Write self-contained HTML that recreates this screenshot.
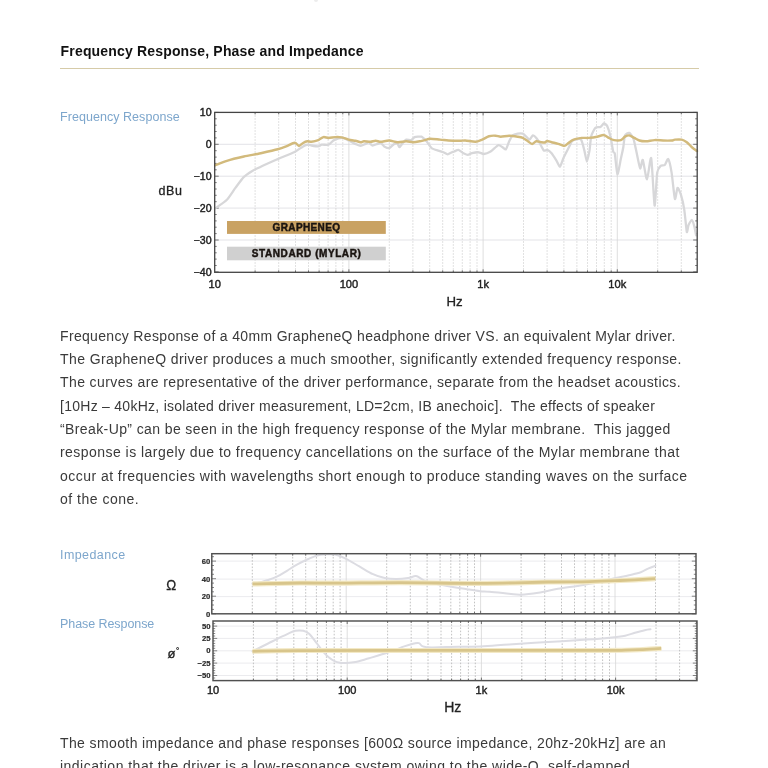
<!DOCTYPE html>
<html lang="en"><head><meta charset="utf-8"><title>Frequency Response, Phase and Impedance</title>
<style>
html,body{margin:0;padding:0;background:#fff;}
body{filter:blur(0.45px);width:768px;height:768px;position:relative;overflow:hidden;font-family:"Liberation Sans",sans-serif;color:#333;}
h2{position:absolute;left:60.6px;top:40.5px;margin:0;font-size:14px;line-height:20px;font-weight:bold;color:#111;letter-spacing:0.17px;white-space:nowrap;}
.rule{position:absolute;left:60px;top:68px;width:639px;height:1px;background:#d6cba8;}
.lbl{position:absolute;left:60px;font-size:12.5px;line-height:16px;color:#7da6cc;white-space:nowrap;}
.ln{position:absolute;left:60px;font-size:14px;line-height:20px;white-space:pre;color:#3a3a3a;}
svg{position:absolute;left:0;top:0;}
svg text{font-family:"Liberation Sans",sans-serif;fill:#222;}
.tk{font-size:11.1px;stroke:#222;stroke-width:0.42px;}
.sm{font-size:7.7px;font-weight:bold;fill:#2a2a2a;stroke:#2a2a2a;stroke-width:0.2px;}
.ax{font-size:12px;fill:#222;stroke:#222;stroke-width:0.3px;}
.lg{font-size:10px;font-weight:bold;fill:#1a1410;stroke:#1a1410;stroke-width:0.45px;}
</style></head><body>
<div style="position:absolute;left:314px;top:0;width:4px;height:2px;background:#ececec;border-radius:0 0 2px 2px"></div>
<h2>Frequency Response, Phase and Impedance</h2>
<div class="rule"></div>
<div class="lbl" style="top:108.6px;letter-spacing:0.05px">Frequency Response</div>
<div class="lbl" style="top:546.6px;letter-spacing:0.42px">Impedance</div>
<div class="lbl" style="top:615.6px;letter-spacing:-0.07px">Phase Response</div>
<div class="ln" style="top:325.68px;letter-spacing:0.333px">Frequency Response of a 40mm GrapheneQ headphone driver VS. an equivalent Mylar driver.</div>
<div class="ln" style="top:348.98px;letter-spacing:0.411px">The GrapheneQ driver produces a much smoother, significantly extended frequency response.</div>
<div class="ln" style="top:372.38px;letter-spacing:0.402px">The curves are representative of the driver performance, separate from the headset acoustics.</div>
<div class="ln" style="top:395.68px;letter-spacing:0.270px">[10Hz – 40kHz, isolated driver measurement, LD=2cm, IB anechoic].  The effects of speaker</div>
<div class="ln" style="top:419.08px;letter-spacing:0.393px">“Break-Up” can be seen in the high frequency response of the Mylar membrane.  This jagged</div>
<div class="ln" style="top:442.38px;letter-spacing:0.460px">response is largely due to frequency cancellations on the surface of the Mylar membrane that</div>
<div class="ln" style="top:465.78px;letter-spacing:0.465px">occur at frequencies with wavelengths short enough to produce standing waves on the surface</div>
<div class="ln" style="top:489.18px;letter-spacing:0.500px">of the cone.</div>
<div class="ln" style="top:732.78px;letter-spacing:0.389px">The smooth impedance and phase responses [600Ω source impedance, 20hz-20kHz] are an</div>
<div class="ln" style="top:756.18px;letter-spacing:0.474px">indication that the driver is a low-resonance system owing to the wide-Q, self-damped</div>
<svg width="768" height="768" viewBox="0 0 768 768">
<rect x="214.7" y="112.4" width="482.5" height="159.9" fill="#fff"/>
<line x1="214.7" y1="144.3" x2="697.2" y2="144.3" stroke="#e0e0e4" stroke-width="0.9"/>
<line x1="214.7" y1="176.2" x2="697.2" y2="176.2" stroke="#e0e0e4" stroke-width="0.9"/>
<line x1="214.7" y1="208.1" x2="697.2" y2="208.1" stroke="#e0e0e4" stroke-width="0.9"/>
<line x1="214.7" y1="240.0" x2="697.2" y2="240.0" stroke="#e0e0e4" stroke-width="0.9"/>
<line x1="255.1" y1="112.4" x2="255.1" y2="272.3" stroke="#b8b8b8" stroke-width="0.7" stroke-dasharray="1.2 1.8"/>
<line x1="255.1" y1="112.4" x2="255.1" y2="114.4" stroke="#555" stroke-width="0.8"/>
<line x1="255.1" y1="272.3" x2="255.1" y2="270.3" stroke="#555" stroke-width="0.8"/>
<line x1="278.7" y1="112.4" x2="278.7" y2="272.3" stroke="#b8b8b8" stroke-width="0.7" stroke-dasharray="1.2 1.8"/>
<line x1="278.7" y1="112.4" x2="278.7" y2="114.4" stroke="#555" stroke-width="0.8"/>
<line x1="278.7" y1="272.3" x2="278.7" y2="270.3" stroke="#555" stroke-width="0.8"/>
<line x1="295.5" y1="112.4" x2="295.5" y2="272.3" stroke="#b8b8b8" stroke-width="0.7" stroke-dasharray="1.2 1.8"/>
<line x1="295.5" y1="112.4" x2="295.5" y2="114.4" stroke="#555" stroke-width="0.8"/>
<line x1="295.5" y1="272.3" x2="295.5" y2="270.3" stroke="#555" stroke-width="0.8"/>
<line x1="308.5" y1="112.4" x2="308.5" y2="272.3" stroke="#b8b8b8" stroke-width="0.7" stroke-dasharray="1.2 1.8"/>
<line x1="308.5" y1="112.4" x2="308.5" y2="114.4" stroke="#555" stroke-width="0.8"/>
<line x1="308.5" y1="272.3" x2="308.5" y2="270.3" stroke="#555" stroke-width="0.8"/>
<line x1="319.1" y1="112.4" x2="319.1" y2="272.3" stroke="#b8b8b8" stroke-width="0.7" stroke-dasharray="1.2 1.8"/>
<line x1="319.1" y1="112.4" x2="319.1" y2="114.4" stroke="#555" stroke-width="0.8"/>
<line x1="319.1" y1="272.3" x2="319.1" y2="270.3" stroke="#555" stroke-width="0.8"/>
<line x1="328.1" y1="112.4" x2="328.1" y2="272.3" stroke="#b8b8b8" stroke-width="0.7" stroke-dasharray="1.2 1.8"/>
<line x1="328.1" y1="112.4" x2="328.1" y2="114.4" stroke="#555" stroke-width="0.8"/>
<line x1="328.1" y1="272.3" x2="328.1" y2="270.3" stroke="#555" stroke-width="0.8"/>
<line x1="335.9" y1="112.4" x2="335.9" y2="272.3" stroke="#b8b8b8" stroke-width="0.7" stroke-dasharray="1.2 1.8"/>
<line x1="335.9" y1="112.4" x2="335.9" y2="114.4" stroke="#555" stroke-width="0.8"/>
<line x1="335.9" y1="272.3" x2="335.9" y2="270.3" stroke="#555" stroke-width="0.8"/>
<line x1="342.8" y1="112.4" x2="342.8" y2="272.3" stroke="#b8b8b8" stroke-width="0.7" stroke-dasharray="1.2 1.8"/>
<line x1="342.8" y1="112.4" x2="342.8" y2="114.4" stroke="#555" stroke-width="0.8"/>
<line x1="342.8" y1="272.3" x2="342.8" y2="270.3" stroke="#555" stroke-width="0.8"/>
<line x1="348.9" y1="112.4" x2="348.9" y2="272.3" stroke="#d6d6d6" stroke-width="0.8"/>
<line x1="348.9" y1="112.4" x2="348.9" y2="115.4" stroke="#555" stroke-width="0.8"/>
<line x1="348.9" y1="272.3" x2="348.9" y2="269.3" stroke="#555" stroke-width="0.8"/>
<line x1="389.3" y1="112.4" x2="389.3" y2="272.3" stroke="#b8b8b8" stroke-width="0.7" stroke-dasharray="1.2 1.8"/>
<line x1="389.3" y1="112.4" x2="389.3" y2="114.4" stroke="#555" stroke-width="0.8"/>
<line x1="389.3" y1="272.3" x2="389.3" y2="270.3" stroke="#555" stroke-width="0.8"/>
<line x1="412.9" y1="112.4" x2="412.9" y2="272.3" stroke="#b8b8b8" stroke-width="0.7" stroke-dasharray="1.2 1.8"/>
<line x1="412.9" y1="112.4" x2="412.9" y2="114.4" stroke="#555" stroke-width="0.8"/>
<line x1="412.9" y1="272.3" x2="412.9" y2="270.3" stroke="#555" stroke-width="0.8"/>
<line x1="429.7" y1="112.4" x2="429.7" y2="272.3" stroke="#b8b8b8" stroke-width="0.7" stroke-dasharray="1.2 1.8"/>
<line x1="429.7" y1="112.4" x2="429.7" y2="114.4" stroke="#555" stroke-width="0.8"/>
<line x1="429.7" y1="272.3" x2="429.7" y2="270.3" stroke="#555" stroke-width="0.8"/>
<line x1="442.7" y1="112.4" x2="442.7" y2="272.3" stroke="#b8b8b8" stroke-width="0.7" stroke-dasharray="1.2 1.8"/>
<line x1="442.7" y1="112.4" x2="442.7" y2="114.4" stroke="#555" stroke-width="0.8"/>
<line x1="442.7" y1="272.3" x2="442.7" y2="270.3" stroke="#555" stroke-width="0.8"/>
<line x1="453.3" y1="112.4" x2="453.3" y2="272.3" stroke="#b8b8b8" stroke-width="0.7" stroke-dasharray="1.2 1.8"/>
<line x1="453.3" y1="112.4" x2="453.3" y2="114.4" stroke="#555" stroke-width="0.8"/>
<line x1="453.3" y1="272.3" x2="453.3" y2="270.3" stroke="#555" stroke-width="0.8"/>
<line x1="462.3" y1="112.4" x2="462.3" y2="272.3" stroke="#b8b8b8" stroke-width="0.7" stroke-dasharray="1.2 1.8"/>
<line x1="462.3" y1="112.4" x2="462.3" y2="114.4" stroke="#555" stroke-width="0.8"/>
<line x1="462.3" y1="272.3" x2="462.3" y2="270.3" stroke="#555" stroke-width="0.8"/>
<line x1="470.1" y1="112.4" x2="470.1" y2="272.3" stroke="#b8b8b8" stroke-width="0.7" stroke-dasharray="1.2 1.8"/>
<line x1="470.1" y1="112.4" x2="470.1" y2="114.4" stroke="#555" stroke-width="0.8"/>
<line x1="470.1" y1="272.3" x2="470.1" y2="270.3" stroke="#555" stroke-width="0.8"/>
<line x1="477.0" y1="112.4" x2="477.0" y2="272.3" stroke="#b8b8b8" stroke-width="0.7" stroke-dasharray="1.2 1.8"/>
<line x1="477.0" y1="112.4" x2="477.0" y2="114.4" stroke="#555" stroke-width="0.8"/>
<line x1="477.0" y1="272.3" x2="477.0" y2="270.3" stroke="#555" stroke-width="0.8"/>
<line x1="483.1" y1="112.4" x2="483.1" y2="272.3" stroke="#d6d6d6" stroke-width="0.8"/>
<line x1="483.1" y1="112.4" x2="483.1" y2="115.4" stroke="#555" stroke-width="0.8"/>
<line x1="483.1" y1="272.3" x2="483.1" y2="269.3" stroke="#555" stroke-width="0.8"/>
<line x1="523.5" y1="112.4" x2="523.5" y2="272.3" stroke="#b8b8b8" stroke-width="0.7" stroke-dasharray="1.2 1.8"/>
<line x1="523.5" y1="112.4" x2="523.5" y2="114.4" stroke="#555" stroke-width="0.8"/>
<line x1="523.5" y1="272.3" x2="523.5" y2="270.3" stroke="#555" stroke-width="0.8"/>
<line x1="547.1" y1="112.4" x2="547.1" y2="272.3" stroke="#b8b8b8" stroke-width="0.7" stroke-dasharray="1.2 1.8"/>
<line x1="547.1" y1="112.4" x2="547.1" y2="114.4" stroke="#555" stroke-width="0.8"/>
<line x1="547.1" y1="272.3" x2="547.1" y2="270.3" stroke="#555" stroke-width="0.8"/>
<line x1="563.9" y1="112.4" x2="563.9" y2="272.3" stroke="#b8b8b8" stroke-width="0.7" stroke-dasharray="1.2 1.8"/>
<line x1="563.9" y1="112.4" x2="563.9" y2="114.4" stroke="#555" stroke-width="0.8"/>
<line x1="563.9" y1="272.3" x2="563.9" y2="270.3" stroke="#555" stroke-width="0.8"/>
<line x1="576.9" y1="112.4" x2="576.9" y2="272.3" stroke="#b8b8b8" stroke-width="0.7" stroke-dasharray="1.2 1.8"/>
<line x1="576.9" y1="112.4" x2="576.9" y2="114.4" stroke="#555" stroke-width="0.8"/>
<line x1="576.9" y1="272.3" x2="576.9" y2="270.3" stroke="#555" stroke-width="0.8"/>
<line x1="587.5" y1="112.4" x2="587.5" y2="272.3" stroke="#b8b8b8" stroke-width="0.7" stroke-dasharray="1.2 1.8"/>
<line x1="587.5" y1="112.4" x2="587.5" y2="114.4" stroke="#555" stroke-width="0.8"/>
<line x1="587.5" y1="272.3" x2="587.5" y2="270.3" stroke="#555" stroke-width="0.8"/>
<line x1="596.5" y1="112.4" x2="596.5" y2="272.3" stroke="#b8b8b8" stroke-width="0.7" stroke-dasharray="1.2 1.8"/>
<line x1="596.5" y1="112.4" x2="596.5" y2="114.4" stroke="#555" stroke-width="0.8"/>
<line x1="596.5" y1="272.3" x2="596.5" y2="270.3" stroke="#555" stroke-width="0.8"/>
<line x1="604.3" y1="112.4" x2="604.3" y2="272.3" stroke="#b8b8b8" stroke-width="0.7" stroke-dasharray="1.2 1.8"/>
<line x1="604.3" y1="112.4" x2="604.3" y2="114.4" stroke="#555" stroke-width="0.8"/>
<line x1="604.3" y1="272.3" x2="604.3" y2="270.3" stroke="#555" stroke-width="0.8"/>
<line x1="611.2" y1="112.4" x2="611.2" y2="272.3" stroke="#b8b8b8" stroke-width="0.7" stroke-dasharray="1.2 1.8"/>
<line x1="611.2" y1="112.4" x2="611.2" y2="114.4" stroke="#555" stroke-width="0.8"/>
<line x1="611.2" y1="272.3" x2="611.2" y2="270.3" stroke="#555" stroke-width="0.8"/>
<line x1="617.3" y1="112.4" x2="617.3" y2="272.3" stroke="#d6d6d6" stroke-width="0.8"/>
<line x1="617.3" y1="112.4" x2="617.3" y2="115.4" stroke="#555" stroke-width="0.8"/>
<line x1="617.3" y1="272.3" x2="617.3" y2="269.3" stroke="#555" stroke-width="0.8"/>
<line x1="657.7" y1="112.4" x2="657.7" y2="272.3" stroke="#b8b8b8" stroke-width="0.7" stroke-dasharray="1.2 1.8"/>
<line x1="657.7" y1="112.4" x2="657.7" y2="114.4" stroke="#555" stroke-width="0.8"/>
<line x1="657.7" y1="272.3" x2="657.7" y2="270.3" stroke="#555" stroke-width="0.8"/>
<line x1="681.3" y1="112.4" x2="681.3" y2="272.3" stroke="#b8b8b8" stroke-width="0.7" stroke-dasharray="1.2 1.8"/>
<line x1="681.3" y1="112.4" x2="681.3" y2="114.4" stroke="#555" stroke-width="0.8"/>
<line x1="681.3" y1="272.3" x2="681.3" y2="270.3" stroke="#555" stroke-width="0.8"/>
<line x1="214.7" y1="112.4" x2="218.7" y2="112.4" stroke="#555" stroke-width="0.8"/>
<line x1="697.2" y1="112.4" x2="693.2" y2="112.4" stroke="#555" stroke-width="0.8"/>
<line x1="214.7" y1="118.8" x2="216.7" y2="118.8" stroke="#555" stroke-width="0.8"/>
<line x1="697.2" y1="118.8" x2="695.2" y2="118.8" stroke="#555" stroke-width="0.8"/>
<line x1="214.7" y1="125.2" x2="216.7" y2="125.2" stroke="#555" stroke-width="0.8"/>
<line x1="697.2" y1="125.2" x2="695.2" y2="125.2" stroke="#555" stroke-width="0.8"/>
<line x1="214.7" y1="131.5" x2="216.7" y2="131.5" stroke="#555" stroke-width="0.8"/>
<line x1="697.2" y1="131.5" x2="695.2" y2="131.5" stroke="#555" stroke-width="0.8"/>
<line x1="214.7" y1="137.9" x2="216.7" y2="137.9" stroke="#555" stroke-width="0.8"/>
<line x1="697.2" y1="137.9" x2="695.2" y2="137.9" stroke="#555" stroke-width="0.8"/>
<line x1="214.7" y1="144.3" x2="218.7" y2="144.3" stroke="#555" stroke-width="0.8"/>
<line x1="697.2" y1="144.3" x2="693.2" y2="144.3" stroke="#555" stroke-width="0.8"/>
<line x1="214.7" y1="150.7" x2="216.7" y2="150.7" stroke="#555" stroke-width="0.8"/>
<line x1="697.2" y1="150.7" x2="695.2" y2="150.7" stroke="#555" stroke-width="0.8"/>
<line x1="214.7" y1="157.1" x2="216.7" y2="157.1" stroke="#555" stroke-width="0.8"/>
<line x1="697.2" y1="157.1" x2="695.2" y2="157.1" stroke="#555" stroke-width="0.8"/>
<line x1="214.7" y1="163.4" x2="216.7" y2="163.4" stroke="#555" stroke-width="0.8"/>
<line x1="697.2" y1="163.4" x2="695.2" y2="163.4" stroke="#555" stroke-width="0.8"/>
<line x1="214.7" y1="169.8" x2="216.7" y2="169.8" stroke="#555" stroke-width="0.8"/>
<line x1="697.2" y1="169.8" x2="695.2" y2="169.8" stroke="#555" stroke-width="0.8"/>
<line x1="214.7" y1="176.2" x2="218.7" y2="176.2" stroke="#555" stroke-width="0.8"/>
<line x1="697.2" y1="176.2" x2="693.2" y2="176.2" stroke="#555" stroke-width="0.8"/>
<line x1="214.7" y1="182.6" x2="216.7" y2="182.6" stroke="#555" stroke-width="0.8"/>
<line x1="697.2" y1="182.6" x2="695.2" y2="182.6" stroke="#555" stroke-width="0.8"/>
<line x1="214.7" y1="189.0" x2="216.7" y2="189.0" stroke="#555" stroke-width="0.8"/>
<line x1="697.2" y1="189.0" x2="695.2" y2="189.0" stroke="#555" stroke-width="0.8"/>
<line x1="214.7" y1="195.3" x2="216.7" y2="195.3" stroke="#555" stroke-width="0.8"/>
<line x1="697.2" y1="195.3" x2="695.2" y2="195.3" stroke="#555" stroke-width="0.8"/>
<line x1="214.7" y1="201.7" x2="216.7" y2="201.7" stroke="#555" stroke-width="0.8"/>
<line x1="697.2" y1="201.7" x2="695.2" y2="201.7" stroke="#555" stroke-width="0.8"/>
<line x1="214.7" y1="208.1" x2="218.7" y2="208.1" stroke="#555" stroke-width="0.8"/>
<line x1="697.2" y1="208.1" x2="693.2" y2="208.1" stroke="#555" stroke-width="0.8"/>
<line x1="214.7" y1="214.5" x2="216.7" y2="214.5" stroke="#555" stroke-width="0.8"/>
<line x1="697.2" y1="214.5" x2="695.2" y2="214.5" stroke="#555" stroke-width="0.8"/>
<line x1="214.7" y1="220.9" x2="216.7" y2="220.9" stroke="#555" stroke-width="0.8"/>
<line x1="697.2" y1="220.9" x2="695.2" y2="220.9" stroke="#555" stroke-width="0.8"/>
<line x1="214.7" y1="227.2" x2="216.7" y2="227.2" stroke="#555" stroke-width="0.8"/>
<line x1="697.2" y1="227.2" x2="695.2" y2="227.2" stroke="#555" stroke-width="0.8"/>
<line x1="214.7" y1="233.6" x2="216.7" y2="233.6" stroke="#555" stroke-width="0.8"/>
<line x1="697.2" y1="233.6" x2="695.2" y2="233.6" stroke="#555" stroke-width="0.8"/>
<line x1="214.7" y1="240.0" x2="218.7" y2="240.0" stroke="#555" stroke-width="0.8"/>
<line x1="697.2" y1="240.0" x2="693.2" y2="240.0" stroke="#555" stroke-width="0.8"/>
<line x1="214.7" y1="246.4" x2="216.7" y2="246.4" stroke="#555" stroke-width="0.8"/>
<line x1="697.2" y1="246.4" x2="695.2" y2="246.4" stroke="#555" stroke-width="0.8"/>
<line x1="214.7" y1="252.8" x2="216.7" y2="252.8" stroke="#555" stroke-width="0.8"/>
<line x1="697.2" y1="252.8" x2="695.2" y2="252.8" stroke="#555" stroke-width="0.8"/>
<line x1="214.7" y1="259.1" x2="216.7" y2="259.1" stroke="#555" stroke-width="0.8"/>
<line x1="697.2" y1="259.1" x2="695.2" y2="259.1" stroke="#555" stroke-width="0.8"/>
<line x1="214.7" y1="265.5" x2="216.7" y2="265.5" stroke="#555" stroke-width="0.8"/>
<line x1="697.2" y1="265.5" x2="695.2" y2="265.5" stroke="#555" stroke-width="0.8"/>
<line x1="214.7" y1="271.9" x2="218.7" y2="271.9" stroke="#555" stroke-width="0.8"/>
<line x1="697.2" y1="271.9" x2="693.2" y2="271.9" stroke="#555" stroke-width="0.8"/>
<path d="M215.2,208.4C216.4,207.5 224.7,201.9 226.9,199.7C229.1,197.5 233.6,190.3 235.4,187.9C237.2,185.5 242.1,178.7 243.9,176.9C245.7,175.1 250.5,172.0 252.3,170.9C254.1,169.8 258.1,168.0 260.8,166.7C263.5,165.4 274.1,160.7 277.7,159.1C281.3,157.5 291.9,153.4 294.6,152.0C297.3,150.6 301.6,147.2 303.1,146.4C304.6,145.6 307.3,144.8 308.2,144.7C309.1,144.6 310.5,145.3 311.6,145.5C312.7,145.7 317.2,146.5 318.3,146.4C319.4,146.3 320.6,144.9 321.7,144.7C322.8,144.5 327.3,145.1 328.5,144.7C329.7,144.3 332.3,141.2 333.4,140.5C334.5,139.8 337.4,138.7 338.5,138.4C339.6,138.1 342.4,137.7 343.5,137.9C344.6,138.1 347.3,139.9 348.6,140.5C349.9,141.1 354.1,143.3 355.4,143.9C356.7,144.5 359.4,145.9 360.5,145.9C361.6,145.9 364.6,144.3 365.5,143.9C366.4,143.5 368.2,142.0 368.9,142.2C369.6,142.4 371.4,145.3 372.3,145.5C373.2,145.7 376.5,144.2 377.4,143.9C378.3,143.6 380.1,142.7 380.8,143.0C381.5,143.3 383.3,145.9 384.2,146.4C385.1,146.9 388.1,148.4 389.2,148.1C390.3,147.8 393.4,144.3 394.3,143.9C395.2,143.5 397.2,143.5 397.7,143.9C398.2,144.3 398.9,147.3 399.4,147.2C399.9,147.1 402.1,143.8 402.8,143.0C403.5,142.2 405.3,139.9 406.2,139.6C407.1,139.3 410.3,140.4 411.2,140.1C412.1,139.8 413.5,137.5 414.6,137.1C415.7,136.7 420.1,136.3 421.4,136.7C422.7,137.1 425.4,140.1 426.5,141.3C427.6,142.5 430.3,147.1 431.6,148.1C432.9,149.1 437.0,150.2 438.3,150.6C439.6,151.0 442.4,151.9 443.4,152.3C444.4,152.7 446.7,154.3 447.6,154.3C448.5,154.3 451.2,152.6 451.9,152.3C452.6,152.0 453.5,151.8 454.2,151.5C454.9,151.2 457.5,149.6 458.5,149.8C459.5,150.0 462.5,152.7 463.5,153.2C464.5,153.7 466.9,154.9 467.8,154.9C468.7,154.9 470.8,153.5 472.0,153.2C473.2,152.9 477.5,152.2 478.8,152.3C480.1,152.4 482.6,154.1 483.9,154.0C485.2,153.9 489.1,152.4 490.6,151.5C492.1,150.6 496.9,145.7 498.2,145.2C499.5,144.7 501.7,146.8 502.5,147.2C503.3,147.6 505.2,149.9 505.9,149.3C506.6,148.7 508.5,142.8 509.2,141.3C509.9,139.8 511.7,136.2 512.6,135.4C513.5,134.6 516.6,133.9 517.7,133.7C518.8,133.5 521.9,133.4 522.8,133.7C523.7,134.0 525.5,136.1 526.2,136.7C526.9,137.3 528.9,139.7 529.6,139.6C530.3,139.5 532.2,135.6 532.9,135.4C533.6,135.2 535.6,137.1 536.3,137.9C537.0,138.7 538.9,141.6 539.7,143.0C540.5,144.4 543.1,149.9 543.9,150.6C544.7,151.3 546.5,149.5 547.3,149.8C548.1,150.1 550.6,152.0 551.6,153.2C552.6,154.4 555.7,159.4 556.6,160.8C557.5,162.2 559.3,167.0 560.0,166.7C560.7,166.4 562.5,160.2 563.4,158.2C564.3,156.2 567.6,149.9 568.5,148.1C569.4,146.3 571.2,142.2 571.9,141.3C572.6,140.4 574.1,139.8 575.1,139.6C576.1,139.4 580.0,138.4 581.0,139.6C582.0,140.8 583.8,148.3 584.4,150.6C585.0,152.9 586.4,161.6 586.9,161.6C587.4,161.6 589.0,153.3 589.5,150.6C590.0,147.9 590.6,138.6 591.2,136.2C591.8,133.8 594.4,128.8 595.4,127.8C596.4,126.8 599.6,127.4 600.5,126.9C601.4,126.4 603.2,123.6 603.9,123.5C604.6,123.4 606.5,124.6 607.2,126.1C607.9,127.6 610.0,134.4 610.6,137.1C611.2,139.8 612.7,149.7 613.2,151.5C613.7,153.3 614.5,151.6 614.9,154.0C615.3,156.4 616.8,173.8 617.4,174.3C618.0,174.8 620.2,162.0 620.8,159.1C621.4,156.2 622.9,149.7 623.3,147.2C623.7,144.7 624.4,136.9 625.0,135.4C625.6,133.9 628.3,132.5 629.2,132.9C630.1,133.3 632.7,136.5 633.5,138.8C634.3,141.1 636.2,150.8 636.9,154.0C637.6,157.2 639.6,167.8 640.2,168.4C640.8,169.0 642.1,158.7 642.8,159.9C643.5,161.1 646.1,179.6 647.0,179.4C647.9,179.2 650.4,155.4 651.2,158.2C652.0,161.0 654.0,204.1 654.6,205.6C655.2,207.1 656.6,176.8 657.2,172.6C657.8,168.4 659.8,166.7 660.6,165.9C661.4,165.1 664.0,165.7 664.8,165.0C665.6,164.3 667.5,158.3 668.2,159.1C668.9,159.9 670.9,168.4 671.6,172.6C672.3,176.8 674.3,197.3 674.9,198.9C675.5,200.5 676.9,188.4 677.5,187.9C678.1,187.4 680.2,192.3 680.9,194.6C681.6,196.9 683.7,205.9 684.3,209.9C684.9,213.9 686.4,230.3 686.8,231.9C687.2,233.5 688.0,226.4 688.5,225.1C689.0,223.8 691.3,219.8 691.9,220.0C692.5,220.2 694.0,225.2 694.4,226.8C694.8,228.4 695.9,234.4 696.1,235.3" fill="none" stroke="#d7d7d9" stroke-width="2.3" stroke-linejoin="round" stroke-linecap="round"/>
<path d="M215.2,165.3C216.8,164.7 223.1,162.0 226.9,160.8C230.7,159.6 239.4,157.5 243.9,156.5C248.4,155.5 256.3,154.2 260.8,153.2C265.3,152.2 274.3,150.2 277.7,149.3C281.1,148.4 283.9,147.3 286.2,146.4C288.5,145.5 292.9,142.8 294.6,142.7C296.3,142.6 297.8,145.9 298.9,145.9C300.0,145.9 302.0,143.6 303.1,143.0C304.2,142.4 306.2,141.5 307.3,141.3C308.4,141.1 310.1,142.0 311.6,141.8C313.1,141.6 316.7,140.7 318.3,140.1C319.9,139.5 322.0,137.4 323.4,137.1C324.8,136.8 326.9,137.9 328.5,137.9C330.1,137.9 333.5,137.2 335.3,137.1C337.1,137.0 340.0,137.1 341.8,137.4C343.6,137.7 346.8,139.1 348.6,139.6C350.4,140.1 353.8,140.5 355.4,140.8C357.0,141.1 359.4,142.1 360.5,142.2C361.6,142.3 362.6,141.4 363.9,141.3C365.2,141.2 369.0,141.9 370.6,141.8C372.2,141.7 374.3,140.8 375.7,140.8C377.1,140.8 379.0,141.8 380.8,141.8C382.6,141.8 386.9,140.4 389.2,140.5C391.5,140.6 395.4,142.1 397.7,142.2C400.0,142.3 404.2,141.3 406.2,141.3C408.2,141.3 411.1,142.2 412.9,142.2C414.7,142.2 418.1,141.6 419.7,141.3C421.3,141.0 423.4,140.4 424.8,140.1C426.2,139.8 427.9,138.9 429.9,138.8C431.9,138.7 437.5,139.4 440.0,139.6C442.5,139.8 445.8,140.3 448.5,140.5C451.2,140.7 457.8,140.8 460.0,140.8C462.2,140.8 463.1,140.4 465.2,140.5C467.3,140.6 473.1,141.9 475.4,141.8C477.7,141.7 480.4,140.3 482.2,139.6C484.0,138.9 487.1,136.7 488.9,136.2C490.7,135.7 494.1,135.6 495.7,135.7C497.3,135.8 499.0,136.7 500.8,136.7C502.6,136.7 506.9,135.7 509.2,135.7C511.5,135.7 515.9,136.4 517.7,136.7C519.5,137.0 521.4,137.3 522.8,137.9C524.2,138.5 526.7,140.5 527.9,141.3C529.1,142.1 531.0,143.9 532.1,143.9C533.2,143.9 535.1,141.5 536.3,141.3C537.5,141.1 540.3,142.0 541.4,142.2C542.5,142.4 544.0,142.7 544.8,142.5C545.6,142.3 546.4,141.0 547.3,141.0C548.2,141.0 550.1,141.8 551.6,142.2C553.1,142.6 556.6,143.4 558.3,143.9C560.0,144.4 562.9,146.0 564.3,145.9C565.7,145.8 567.5,143.7 568.5,143.0C569.5,142.3 571.0,141.0 571.9,140.5C572.8,140.0 573.8,139.4 575.1,139.1C576.4,138.8 580.0,138.1 581.8,137.9C583.6,137.7 586.6,138.1 588.6,137.9C590.6,137.7 595.1,137.1 597.1,136.7C599.1,136.3 602.3,134.9 603.9,135.1C605.5,135.3 607.6,137.2 608.9,137.9C610.2,138.6 612.4,139.8 614.0,140.1C615.6,140.4 619.3,140.6 620.8,140.1C622.3,139.6 623.9,137.3 625.0,136.7C626.1,136.1 628.0,135.2 629.2,135.4C630.4,135.6 632.9,137.2 634.3,137.9C635.7,138.6 637.8,140.0 639.4,140.5C641.0,141.0 644.2,141.4 646.2,141.3C648.2,141.2 652.3,140.2 654.6,140.1C656.9,140.0 660.8,140.4 663.1,140.5C665.4,140.6 670.0,140.6 671.6,140.5C673.2,140.4 673.6,139.7 674.9,139.6C676.2,139.5 680.1,139.3 681.7,139.6C683.3,139.9 685.4,141.2 686.8,142.2C688.2,143.2 690.5,146.0 691.9,147.2C693.3,148.4 696.3,150.5 697.0,151.0" fill="none" stroke="#d2ba7c" stroke-width="2.45" stroke-linejoin="round" stroke-linecap="round"/>
<rect x="214.7" y="112.4" width="482.5" height="159.9" fill="none" stroke="#444" stroke-width="1.3"/>
<rect x="227" y="221" width="158.8" height="12.9" fill="#c9a263"/>
<rect x="227" y="246.7" width="158.8" height="13.6" fill="#d0d0d0"/>
<text x="306.3" y="231.3" text-anchor="middle" class="lg" textLength="67.5" lengthAdjust="spacing">GRAPHENEQ</text>
<text x="306.3" y="257.4" text-anchor="middle" class="lg" textLength="109" lengthAdjust="spacing">STANDARD (MYLAR)</text>
<text x="211.6" y="116.0" text-anchor="end" class="tk" style="font-size:10.6px">10</text>
<text x="211.6" y="147.9" text-anchor="end" class="tk" style="font-size:10.6px">0</text>
<text x="211.6" y="179.8" text-anchor="end" class="tk" style="font-size:10.6px">−10</text>
<text x="211.6" y="211.7" text-anchor="end" class="tk" style="font-size:10.6px">−20</text>
<text x="211.6" y="243.6" text-anchor="end" class="tk" style="font-size:10.6px">−30</text>
<text x="211.6" y="275.5" text-anchor="end" class="tk" style="font-size:10.6px">−40</text>
<text x="214.7" y="288.1" text-anchor="middle" class="tk">10</text>
<text x="348.9" y="288.1" text-anchor="middle" class="tk">100</text>
<text x="483.1" y="288.1" text-anchor="middle" class="tk">1k</text>
<text x="617.3" y="288.1" text-anchor="middle" class="tk">10k</text>
<text x="158.6" y="195" class="ax" style="font-size:12.5px;letter-spacing:0.55px">dBu</text>
<text x="446.6" y="306.2" class="ax" style="font-size:13.2px">Hz</text>
<rect x="211.8" y="553.7" width="484.2" height="60.1" fill="#fff"/>
<line x1="211.8" y1="561.1" x2="696.0" y2="561.1" stroke="#e6e6ea" stroke-width="0.8"/>
<line x1="211.8" y1="579.1" x2="696.0" y2="579.1" stroke="#e6e6ea" stroke-width="0.8"/>
<line x1="211.8" y1="596.6" x2="696.0" y2="596.6" stroke="#e6e6ea" stroke-width="0.8"/>
<line x1="252.3" y1="553.7" x2="252.3" y2="613.8" stroke="#b2b2b2" stroke-width="0.8" stroke-dasharray="1.6 1.6"/>
<line x1="252.3" y1="553.7" x2="252.3" y2="555.7" stroke="#555" stroke-width="0.8"/>
<line x1="252.3" y1="613.8" x2="252.3" y2="611.8" stroke="#555" stroke-width="0.8"/>
<line x1="275.9" y1="553.7" x2="275.9" y2="613.8" stroke="#b2b2b2" stroke-width="0.8" stroke-dasharray="1.6 1.6"/>
<line x1="275.9" y1="553.7" x2="275.9" y2="555.7" stroke="#555" stroke-width="0.8"/>
<line x1="275.9" y1="613.8" x2="275.9" y2="611.8" stroke="#555" stroke-width="0.8"/>
<line x1="292.7" y1="553.7" x2="292.7" y2="613.8" stroke="#b2b2b2" stroke-width="0.8" stroke-dasharray="1.6 1.6"/>
<line x1="292.7" y1="553.7" x2="292.7" y2="555.7" stroke="#555" stroke-width="0.8"/>
<line x1="292.7" y1="613.8" x2="292.7" y2="611.8" stroke="#555" stroke-width="0.8"/>
<line x1="305.7" y1="553.7" x2="305.7" y2="613.8" stroke="#b2b2b2" stroke-width="0.8" stroke-dasharray="1.6 1.6"/>
<line x1="305.7" y1="553.7" x2="305.7" y2="555.7" stroke="#555" stroke-width="0.8"/>
<line x1="305.7" y1="613.8" x2="305.7" y2="611.8" stroke="#555" stroke-width="0.8"/>
<line x1="316.4" y1="553.7" x2="316.4" y2="613.8" stroke="#b2b2b2" stroke-width="0.8" stroke-dasharray="1.6 1.6"/>
<line x1="316.4" y1="553.7" x2="316.4" y2="555.7" stroke="#555" stroke-width="0.8"/>
<line x1="316.4" y1="613.8" x2="316.4" y2="611.8" stroke="#555" stroke-width="0.8"/>
<line x1="325.4" y1="553.7" x2="325.4" y2="613.8" stroke="#b2b2b2" stroke-width="0.8" stroke-dasharray="1.6 1.6"/>
<line x1="325.4" y1="553.7" x2="325.4" y2="555.7" stroke="#555" stroke-width="0.8"/>
<line x1="325.4" y1="613.8" x2="325.4" y2="611.8" stroke="#555" stroke-width="0.8"/>
<line x1="333.2" y1="553.7" x2="333.2" y2="613.8" stroke="#b2b2b2" stroke-width="0.8" stroke-dasharray="1.6 1.6"/>
<line x1="333.2" y1="553.7" x2="333.2" y2="555.7" stroke="#555" stroke-width="0.8"/>
<line x1="333.2" y1="613.8" x2="333.2" y2="611.8" stroke="#555" stroke-width="0.8"/>
<line x1="340.1" y1="553.7" x2="340.1" y2="613.8" stroke="#b2b2b2" stroke-width="0.8" stroke-dasharray="1.6 1.6"/>
<line x1="340.1" y1="553.7" x2="340.1" y2="555.7" stroke="#555" stroke-width="0.8"/>
<line x1="340.1" y1="613.8" x2="340.1" y2="611.8" stroke="#555" stroke-width="0.8"/>
<line x1="346.2" y1="553.7" x2="346.2" y2="613.8" stroke="#d6d6d6" stroke-width="0.8"/>
<line x1="346.2" y1="553.7" x2="346.2" y2="556.7" stroke="#555" stroke-width="0.8"/>
<line x1="346.2" y1="613.8" x2="346.2" y2="610.8" stroke="#555" stroke-width="0.8"/>
<line x1="386.7" y1="553.7" x2="386.7" y2="613.8" stroke="#b2b2b2" stroke-width="0.8" stroke-dasharray="1.6 1.6"/>
<line x1="386.7" y1="553.7" x2="386.7" y2="555.7" stroke="#555" stroke-width="0.8"/>
<line x1="386.7" y1="613.8" x2="386.7" y2="611.8" stroke="#555" stroke-width="0.8"/>
<line x1="410.3" y1="553.7" x2="410.3" y2="613.8" stroke="#b2b2b2" stroke-width="0.8" stroke-dasharray="1.6 1.6"/>
<line x1="410.3" y1="553.7" x2="410.3" y2="555.7" stroke="#555" stroke-width="0.8"/>
<line x1="410.3" y1="613.8" x2="410.3" y2="611.8" stroke="#555" stroke-width="0.8"/>
<line x1="427.1" y1="553.7" x2="427.1" y2="613.8" stroke="#b2b2b2" stroke-width="0.8" stroke-dasharray="1.6 1.6"/>
<line x1="427.1" y1="553.7" x2="427.1" y2="555.7" stroke="#555" stroke-width="0.8"/>
<line x1="427.1" y1="613.8" x2="427.1" y2="611.8" stroke="#555" stroke-width="0.8"/>
<line x1="440.1" y1="553.7" x2="440.1" y2="613.8" stroke="#b2b2b2" stroke-width="0.8" stroke-dasharray="1.6 1.6"/>
<line x1="440.1" y1="553.7" x2="440.1" y2="555.7" stroke="#555" stroke-width="0.8"/>
<line x1="440.1" y1="613.8" x2="440.1" y2="611.8" stroke="#555" stroke-width="0.8"/>
<line x1="450.8" y1="553.7" x2="450.8" y2="613.8" stroke="#b2b2b2" stroke-width="0.8" stroke-dasharray="1.6 1.6"/>
<line x1="450.8" y1="553.7" x2="450.8" y2="555.7" stroke="#555" stroke-width="0.8"/>
<line x1="450.8" y1="613.8" x2="450.8" y2="611.8" stroke="#555" stroke-width="0.8"/>
<line x1="459.8" y1="553.7" x2="459.8" y2="613.8" stroke="#b2b2b2" stroke-width="0.8" stroke-dasharray="1.6 1.6"/>
<line x1="459.8" y1="553.7" x2="459.8" y2="555.7" stroke="#555" stroke-width="0.8"/>
<line x1="459.8" y1="613.8" x2="459.8" y2="611.8" stroke="#555" stroke-width="0.8"/>
<line x1="467.6" y1="553.7" x2="467.6" y2="613.8" stroke="#b2b2b2" stroke-width="0.8" stroke-dasharray="1.6 1.6"/>
<line x1="467.6" y1="553.7" x2="467.6" y2="555.7" stroke="#555" stroke-width="0.8"/>
<line x1="467.6" y1="613.8" x2="467.6" y2="611.8" stroke="#555" stroke-width="0.8"/>
<line x1="474.5" y1="553.7" x2="474.5" y2="613.8" stroke="#b2b2b2" stroke-width="0.8" stroke-dasharray="1.6 1.6"/>
<line x1="474.5" y1="553.7" x2="474.5" y2="555.7" stroke="#555" stroke-width="0.8"/>
<line x1="474.5" y1="613.8" x2="474.5" y2="611.8" stroke="#555" stroke-width="0.8"/>
<line x1="480.6" y1="553.7" x2="480.6" y2="613.8" stroke="#d6d6d6" stroke-width="0.8"/>
<line x1="480.6" y1="553.7" x2="480.6" y2="556.7" stroke="#555" stroke-width="0.8"/>
<line x1="480.6" y1="613.8" x2="480.6" y2="610.8" stroke="#555" stroke-width="0.8"/>
<line x1="521.1" y1="553.7" x2="521.1" y2="613.8" stroke="#b2b2b2" stroke-width="0.8" stroke-dasharray="1.6 1.6"/>
<line x1="521.1" y1="553.7" x2="521.1" y2="555.7" stroke="#555" stroke-width="0.8"/>
<line x1="521.1" y1="613.8" x2="521.1" y2="611.8" stroke="#555" stroke-width="0.8"/>
<line x1="544.7" y1="553.7" x2="544.7" y2="613.8" stroke="#b2b2b2" stroke-width="0.8" stroke-dasharray="1.6 1.6"/>
<line x1="544.7" y1="553.7" x2="544.7" y2="555.7" stroke="#555" stroke-width="0.8"/>
<line x1="544.7" y1="613.8" x2="544.7" y2="611.8" stroke="#555" stroke-width="0.8"/>
<line x1="561.5" y1="553.7" x2="561.5" y2="613.8" stroke="#b2b2b2" stroke-width="0.8" stroke-dasharray="1.6 1.6"/>
<line x1="561.5" y1="553.7" x2="561.5" y2="555.7" stroke="#555" stroke-width="0.8"/>
<line x1="561.5" y1="613.8" x2="561.5" y2="611.8" stroke="#555" stroke-width="0.8"/>
<line x1="574.5" y1="553.7" x2="574.5" y2="613.8" stroke="#b2b2b2" stroke-width="0.8" stroke-dasharray="1.6 1.6"/>
<line x1="574.5" y1="553.7" x2="574.5" y2="555.7" stroke="#555" stroke-width="0.8"/>
<line x1="574.5" y1="613.8" x2="574.5" y2="611.8" stroke="#555" stroke-width="0.8"/>
<line x1="585.2" y1="553.7" x2="585.2" y2="613.8" stroke="#b2b2b2" stroke-width="0.8" stroke-dasharray="1.6 1.6"/>
<line x1="585.2" y1="553.7" x2="585.2" y2="555.7" stroke="#555" stroke-width="0.8"/>
<line x1="585.2" y1="613.8" x2="585.2" y2="611.8" stroke="#555" stroke-width="0.8"/>
<line x1="594.2" y1="553.7" x2="594.2" y2="613.8" stroke="#b2b2b2" stroke-width="0.8" stroke-dasharray="1.6 1.6"/>
<line x1="594.2" y1="553.7" x2="594.2" y2="555.7" stroke="#555" stroke-width="0.8"/>
<line x1="594.2" y1="613.8" x2="594.2" y2="611.8" stroke="#555" stroke-width="0.8"/>
<line x1="602.0" y1="553.7" x2="602.0" y2="613.8" stroke="#b2b2b2" stroke-width="0.8" stroke-dasharray="1.6 1.6"/>
<line x1="602.0" y1="553.7" x2="602.0" y2="555.7" stroke="#555" stroke-width="0.8"/>
<line x1="602.0" y1="613.8" x2="602.0" y2="611.8" stroke="#555" stroke-width="0.8"/>
<line x1="608.9" y1="553.7" x2="608.9" y2="613.8" stroke="#b2b2b2" stroke-width="0.8" stroke-dasharray="1.6 1.6"/>
<line x1="608.9" y1="553.7" x2="608.9" y2="555.7" stroke="#555" stroke-width="0.8"/>
<line x1="608.9" y1="613.8" x2="608.9" y2="611.8" stroke="#555" stroke-width="0.8"/>
<line x1="615.0" y1="553.7" x2="615.0" y2="613.8" stroke="#d6d6d6" stroke-width="0.8"/>
<line x1="615.0" y1="553.7" x2="615.0" y2="556.7" stroke="#555" stroke-width="0.8"/>
<line x1="615.0" y1="613.8" x2="615.0" y2="610.8" stroke="#555" stroke-width="0.8"/>
<line x1="655.5" y1="553.7" x2="655.5" y2="613.8" stroke="#b2b2b2" stroke-width="0.8" stroke-dasharray="1.6 1.6"/>
<line x1="655.5" y1="553.7" x2="655.5" y2="555.7" stroke="#555" stroke-width="0.8"/>
<line x1="655.5" y1="613.8" x2="655.5" y2="611.8" stroke="#555" stroke-width="0.8"/>
<line x1="679.1" y1="553.7" x2="679.1" y2="613.8" stroke="#b2b2b2" stroke-width="0.8" stroke-dasharray="1.6 1.6"/>
<line x1="679.1" y1="553.7" x2="679.1" y2="555.7" stroke="#555" stroke-width="0.8"/>
<line x1="679.1" y1="613.8" x2="679.1" y2="611.8" stroke="#555" stroke-width="0.8"/>
<line x1="211.8" y1="613.8" x2="216.0" y2="613.8" stroke="#555" stroke-width="0.7"/>
<line x1="696.0" y1="613.8" x2="691.8" y2="613.8" stroke="#555" stroke-width="0.7"/>
<line x1="211.8" y1="609.4" x2="214.0" y2="609.4" stroke="#555" stroke-width="0.7"/>
<line x1="696.0" y1="609.4" x2="693.8" y2="609.4" stroke="#555" stroke-width="0.7"/>
<line x1="211.8" y1="605.0" x2="214.0" y2="605.0" stroke="#555" stroke-width="0.7"/>
<line x1="696.0" y1="605.0" x2="693.8" y2="605.0" stroke="#555" stroke-width="0.7"/>
<line x1="211.8" y1="600.6" x2="214.0" y2="600.6" stroke="#555" stroke-width="0.7"/>
<line x1="696.0" y1="600.6" x2="693.8" y2="600.6" stroke="#555" stroke-width="0.7"/>
<line x1="211.8" y1="596.2" x2="216.0" y2="596.2" stroke="#555" stroke-width="0.7"/>
<line x1="696.0" y1="596.2" x2="691.8" y2="596.2" stroke="#555" stroke-width="0.7"/>
<line x1="211.8" y1="591.8" x2="214.0" y2="591.8" stroke="#555" stroke-width="0.7"/>
<line x1="696.0" y1="591.8" x2="693.8" y2="591.8" stroke="#555" stroke-width="0.7"/>
<line x1="211.8" y1="587.5" x2="214.0" y2="587.5" stroke="#555" stroke-width="0.7"/>
<line x1="696.0" y1="587.5" x2="693.8" y2="587.5" stroke="#555" stroke-width="0.7"/>
<line x1="211.8" y1="583.1" x2="214.0" y2="583.1" stroke="#555" stroke-width="0.7"/>
<line x1="696.0" y1="583.1" x2="693.8" y2="583.1" stroke="#555" stroke-width="0.7"/>
<line x1="211.8" y1="578.7" x2="216.0" y2="578.7" stroke="#555" stroke-width="0.7"/>
<line x1="696.0" y1="578.7" x2="691.8" y2="578.7" stroke="#555" stroke-width="0.7"/>
<line x1="211.8" y1="574.3" x2="214.0" y2="574.3" stroke="#555" stroke-width="0.7"/>
<line x1="696.0" y1="574.3" x2="693.8" y2="574.3" stroke="#555" stroke-width="0.7"/>
<line x1="211.8" y1="569.9" x2="214.0" y2="569.9" stroke="#555" stroke-width="0.7"/>
<line x1="696.0" y1="569.9" x2="693.8" y2="569.9" stroke="#555" stroke-width="0.7"/>
<line x1="211.8" y1="565.5" x2="214.0" y2="565.5" stroke="#555" stroke-width="0.7"/>
<line x1="696.0" y1="565.5" x2="693.8" y2="565.5" stroke="#555" stroke-width="0.7"/>
<line x1="211.8" y1="561.1" x2="216.0" y2="561.1" stroke="#555" stroke-width="0.7"/>
<line x1="696.0" y1="561.1" x2="691.8" y2="561.1" stroke="#555" stroke-width="0.7"/>
<line x1="211.8" y1="556.7" x2="214.0" y2="556.7" stroke="#555" stroke-width="0.7"/>
<line x1="696.0" y1="556.7" x2="693.8" y2="556.7" stroke="#555" stroke-width="0.7"/>
<path d="M252.5,583.9C253.8,583.6 257.4,582.9 260.0,582.3C262.6,581.6 265.1,581.0 268.1,580.0C271.1,579.0 274.6,577.7 277.9,576.1C281.2,574.5 284.4,572.2 287.7,570.3C290.9,568.3 294.1,566.2 297.4,564.4C300.6,562.6 303.9,561.0 307.2,559.5C310.5,558.0 313.8,556.5 317.0,555.6C320.2,554.7 323.7,554.5 326.7,554.3C329.7,554.1 331.9,553.9 335.0,554.6C338.1,555.3 341.6,556.6 345.6,558.6C349.7,560.6 354.7,563.8 359.3,566.4C363.9,569.0 368.8,572.2 373.0,574.2C377.2,576.2 380.8,577.3 384.7,578.1C388.6,578.9 392.5,579.1 396.4,579.1C400.3,579.1 404.9,578.6 408.1,578.1C411.4,577.6 413.6,575.9 415.9,576.1C418.2,576.3 419.8,578.1 421.8,579.1C423.8,580.1 423.5,580.9 427.7,582.0C431.9,583.1 440.7,584.7 447.2,585.9C453.7,587.1 461.2,588.3 466.7,589.2C472.2,590.1 476.2,590.8 480.0,591.2C483.8,591.6 484.6,591.4 489.5,591.8C494.4,592.2 503.9,593.2 509.1,593.7C514.3,594.2 515.9,594.9 520.8,594.7C525.7,594.5 532.2,593.7 538.4,592.7C544.6,591.7 551.4,589.9 557.9,588.8C564.4,587.7 570.9,586.9 577.4,585.9C583.9,584.9 590.6,583.9 596.9,582.6C603.2,581.3 610.0,579.3 615.4,578.1C620.8,576.9 624.8,576.2 629.0,575.2C633.2,574.2 637.5,573.4 640.8,572.2C644.1,571.1 646.2,569.4 648.6,568.3C651.0,567.2 654.3,566.2 655.4,565.8" fill="none" stroke="#dcdce2" stroke-width="2" stroke-linejoin="round" stroke-linecap="round"/>
<path d="M252.5,583.9C260.4,583.8 285.4,583.1 300.0,583.0C314.6,582.9 323.3,583.3 340.0,583.2C356.7,583.1 376.7,582.6 400.0,582.6C423.3,582.6 455.3,583.5 480.0,583.4C504.7,583.3 529.7,582.3 548.0,582.0C566.3,581.7 578.0,581.9 590.0,581.6C602.0,581.4 609.1,581.0 620.0,580.5C630.9,580.0 649.5,579.0 655.4,578.7" fill="none" stroke="#f3e9c6" stroke-width="5.2" stroke-linejoin="round"/>
<path d="M252.5,583.9C260.4,583.8 285.4,583.1 300.0,583.0C314.6,582.9 323.3,583.3 340.0,583.2C356.7,583.1 376.7,582.6 400.0,582.6C423.3,582.6 455.3,583.5 480.0,583.4C504.7,583.3 529.7,582.3 548.0,582.0C566.3,581.7 578.0,581.9 590.0,581.6C602.0,581.4 609.1,581.0 620.0,580.5C630.9,580.0 649.5,579.0 655.4,578.7" fill="none" stroke="#d8c58b" stroke-width="2.8" stroke-linejoin="round"/>
<rect x="211.8" y="553.7" width="484.2" height="60.1" fill="none" stroke="#505050" stroke-width="1.45"/>
<text x="210.3" y="563.6" text-anchor="end" class="sm">60</text>
<text x="210.3" y="581.6" text-anchor="end" class="sm">40</text>
<text x="210.3" y="599.1" text-anchor="end" class="sm">20</text>
<text x="210.3" y="617.1" text-anchor="end" class="sm">0</text>
<rect x="213.0" y="621.0" width="484.0" height="59.6" fill="#fff"/>
<line x1="213.0" y1="626.1" x2="697.0" y2="626.1" stroke="#e6e6ea" stroke-width="0.8"/>
<line x1="213.0" y1="638.4" x2="697.0" y2="638.4" stroke="#e6e6ea" stroke-width="0.8"/>
<line x1="213.0" y1="650.8" x2="697.0" y2="650.8" stroke="#e6e6ea" stroke-width="0.8"/>
<line x1="213.0" y1="663.1" x2="697.0" y2="663.1" stroke="#e6e6ea" stroke-width="0.8"/>
<line x1="213.0" y1="675.5" x2="697.0" y2="675.5" stroke="#e6e6ea" stroke-width="0.8"/>
<line x1="253.4" y1="621.0" x2="253.4" y2="680.6" stroke="#b2b2b2" stroke-width="0.8" stroke-dasharray="1.6 1.6"/>
<line x1="253.4" y1="621.0" x2="253.4" y2="623.0" stroke="#555" stroke-width="0.8"/>
<line x1="253.4" y1="680.6" x2="253.4" y2="678.6" stroke="#555" stroke-width="0.8"/>
<line x1="277.0" y1="621.0" x2="277.0" y2="680.6" stroke="#b2b2b2" stroke-width="0.8" stroke-dasharray="1.6 1.6"/>
<line x1="277.0" y1="621.0" x2="277.0" y2="623.0" stroke="#555" stroke-width="0.8"/>
<line x1="277.0" y1="680.6" x2="277.0" y2="678.6" stroke="#555" stroke-width="0.8"/>
<line x1="293.8" y1="621.0" x2="293.8" y2="680.6" stroke="#b2b2b2" stroke-width="0.8" stroke-dasharray="1.6 1.6"/>
<line x1="293.8" y1="621.0" x2="293.8" y2="623.0" stroke="#555" stroke-width="0.8"/>
<line x1="293.8" y1="680.6" x2="293.8" y2="678.6" stroke="#555" stroke-width="0.8"/>
<line x1="306.8" y1="621.0" x2="306.8" y2="680.6" stroke="#b2b2b2" stroke-width="0.8" stroke-dasharray="1.6 1.6"/>
<line x1="306.8" y1="621.0" x2="306.8" y2="623.0" stroke="#555" stroke-width="0.8"/>
<line x1="306.8" y1="680.6" x2="306.8" y2="678.6" stroke="#555" stroke-width="0.8"/>
<line x1="317.4" y1="621.0" x2="317.4" y2="680.6" stroke="#b2b2b2" stroke-width="0.8" stroke-dasharray="1.6 1.6"/>
<line x1="317.4" y1="621.0" x2="317.4" y2="623.0" stroke="#555" stroke-width="0.8"/>
<line x1="317.4" y1="680.6" x2="317.4" y2="678.6" stroke="#555" stroke-width="0.8"/>
<line x1="326.4" y1="621.0" x2="326.4" y2="680.6" stroke="#b2b2b2" stroke-width="0.8" stroke-dasharray="1.6 1.6"/>
<line x1="326.4" y1="621.0" x2="326.4" y2="623.0" stroke="#555" stroke-width="0.8"/>
<line x1="326.4" y1="680.6" x2="326.4" y2="678.6" stroke="#555" stroke-width="0.8"/>
<line x1="334.2" y1="621.0" x2="334.2" y2="680.6" stroke="#b2b2b2" stroke-width="0.8" stroke-dasharray="1.6 1.6"/>
<line x1="334.2" y1="621.0" x2="334.2" y2="623.0" stroke="#555" stroke-width="0.8"/>
<line x1="334.2" y1="680.6" x2="334.2" y2="678.6" stroke="#555" stroke-width="0.8"/>
<line x1="341.1" y1="621.0" x2="341.1" y2="680.6" stroke="#b2b2b2" stroke-width="0.8" stroke-dasharray="1.6 1.6"/>
<line x1="341.1" y1="621.0" x2="341.1" y2="623.0" stroke="#555" stroke-width="0.8"/>
<line x1="341.1" y1="680.6" x2="341.1" y2="678.6" stroke="#555" stroke-width="0.8"/>
<line x1="347.2" y1="621.0" x2="347.2" y2="680.6" stroke="#d6d6d6" stroke-width="0.8"/>
<line x1="347.2" y1="621.0" x2="347.2" y2="624.0" stroke="#555" stroke-width="0.8"/>
<line x1="347.2" y1="680.6" x2="347.2" y2="677.6" stroke="#555" stroke-width="0.8"/>
<line x1="387.6" y1="621.0" x2="387.6" y2="680.6" stroke="#b2b2b2" stroke-width="0.8" stroke-dasharray="1.6 1.6"/>
<line x1="387.6" y1="621.0" x2="387.6" y2="623.0" stroke="#555" stroke-width="0.8"/>
<line x1="387.6" y1="680.6" x2="387.6" y2="678.6" stroke="#555" stroke-width="0.8"/>
<line x1="411.2" y1="621.0" x2="411.2" y2="680.6" stroke="#b2b2b2" stroke-width="0.8" stroke-dasharray="1.6 1.6"/>
<line x1="411.2" y1="621.0" x2="411.2" y2="623.0" stroke="#555" stroke-width="0.8"/>
<line x1="411.2" y1="680.6" x2="411.2" y2="678.6" stroke="#555" stroke-width="0.8"/>
<line x1="428.0" y1="621.0" x2="428.0" y2="680.6" stroke="#b2b2b2" stroke-width="0.8" stroke-dasharray="1.6 1.6"/>
<line x1="428.0" y1="621.0" x2="428.0" y2="623.0" stroke="#555" stroke-width="0.8"/>
<line x1="428.0" y1="680.6" x2="428.0" y2="678.6" stroke="#555" stroke-width="0.8"/>
<line x1="441.0" y1="621.0" x2="441.0" y2="680.6" stroke="#b2b2b2" stroke-width="0.8" stroke-dasharray="1.6 1.6"/>
<line x1="441.0" y1="621.0" x2="441.0" y2="623.0" stroke="#555" stroke-width="0.8"/>
<line x1="441.0" y1="680.6" x2="441.0" y2="678.6" stroke="#555" stroke-width="0.8"/>
<line x1="451.6" y1="621.0" x2="451.6" y2="680.6" stroke="#b2b2b2" stroke-width="0.8" stroke-dasharray="1.6 1.6"/>
<line x1="451.6" y1="621.0" x2="451.6" y2="623.0" stroke="#555" stroke-width="0.8"/>
<line x1="451.6" y1="680.6" x2="451.6" y2="678.6" stroke="#555" stroke-width="0.8"/>
<line x1="460.6" y1="621.0" x2="460.6" y2="680.6" stroke="#b2b2b2" stroke-width="0.8" stroke-dasharray="1.6 1.6"/>
<line x1="460.6" y1="621.0" x2="460.6" y2="623.0" stroke="#555" stroke-width="0.8"/>
<line x1="460.6" y1="680.6" x2="460.6" y2="678.6" stroke="#555" stroke-width="0.8"/>
<line x1="468.4" y1="621.0" x2="468.4" y2="680.6" stroke="#b2b2b2" stroke-width="0.8" stroke-dasharray="1.6 1.6"/>
<line x1="468.4" y1="621.0" x2="468.4" y2="623.0" stroke="#555" stroke-width="0.8"/>
<line x1="468.4" y1="680.6" x2="468.4" y2="678.6" stroke="#555" stroke-width="0.8"/>
<line x1="475.3" y1="621.0" x2="475.3" y2="680.6" stroke="#b2b2b2" stroke-width="0.8" stroke-dasharray="1.6 1.6"/>
<line x1="475.3" y1="621.0" x2="475.3" y2="623.0" stroke="#555" stroke-width="0.8"/>
<line x1="475.3" y1="680.6" x2="475.3" y2="678.6" stroke="#555" stroke-width="0.8"/>
<line x1="481.4" y1="621.0" x2="481.4" y2="680.6" stroke="#d6d6d6" stroke-width="0.8"/>
<line x1="481.4" y1="621.0" x2="481.4" y2="624.0" stroke="#555" stroke-width="0.8"/>
<line x1="481.4" y1="680.6" x2="481.4" y2="677.6" stroke="#555" stroke-width="0.8"/>
<line x1="521.8" y1="621.0" x2="521.8" y2="680.6" stroke="#b2b2b2" stroke-width="0.8" stroke-dasharray="1.6 1.6"/>
<line x1="521.8" y1="621.0" x2="521.8" y2="623.0" stroke="#555" stroke-width="0.8"/>
<line x1="521.8" y1="680.6" x2="521.8" y2="678.6" stroke="#555" stroke-width="0.8"/>
<line x1="545.4" y1="621.0" x2="545.4" y2="680.6" stroke="#b2b2b2" stroke-width="0.8" stroke-dasharray="1.6 1.6"/>
<line x1="545.4" y1="621.0" x2="545.4" y2="623.0" stroke="#555" stroke-width="0.8"/>
<line x1="545.4" y1="680.6" x2="545.4" y2="678.6" stroke="#555" stroke-width="0.8"/>
<line x1="562.2" y1="621.0" x2="562.2" y2="680.6" stroke="#b2b2b2" stroke-width="0.8" stroke-dasharray="1.6 1.6"/>
<line x1="562.2" y1="621.0" x2="562.2" y2="623.0" stroke="#555" stroke-width="0.8"/>
<line x1="562.2" y1="680.6" x2="562.2" y2="678.6" stroke="#555" stroke-width="0.8"/>
<line x1="575.2" y1="621.0" x2="575.2" y2="680.6" stroke="#b2b2b2" stroke-width="0.8" stroke-dasharray="1.6 1.6"/>
<line x1="575.2" y1="621.0" x2="575.2" y2="623.0" stroke="#555" stroke-width="0.8"/>
<line x1="575.2" y1="680.6" x2="575.2" y2="678.6" stroke="#555" stroke-width="0.8"/>
<line x1="585.8" y1="621.0" x2="585.8" y2="680.6" stroke="#b2b2b2" stroke-width="0.8" stroke-dasharray="1.6 1.6"/>
<line x1="585.8" y1="621.0" x2="585.8" y2="623.0" stroke="#555" stroke-width="0.8"/>
<line x1="585.8" y1="680.6" x2="585.8" y2="678.6" stroke="#555" stroke-width="0.8"/>
<line x1="594.8" y1="621.0" x2="594.8" y2="680.6" stroke="#b2b2b2" stroke-width="0.8" stroke-dasharray="1.6 1.6"/>
<line x1="594.8" y1="621.0" x2="594.8" y2="623.0" stroke="#555" stroke-width="0.8"/>
<line x1="594.8" y1="680.6" x2="594.8" y2="678.6" stroke="#555" stroke-width="0.8"/>
<line x1="602.6" y1="621.0" x2="602.6" y2="680.6" stroke="#b2b2b2" stroke-width="0.8" stroke-dasharray="1.6 1.6"/>
<line x1="602.6" y1="621.0" x2="602.6" y2="623.0" stroke="#555" stroke-width="0.8"/>
<line x1="602.6" y1="680.6" x2="602.6" y2="678.6" stroke="#555" stroke-width="0.8"/>
<line x1="609.5" y1="621.0" x2="609.5" y2="680.6" stroke="#b2b2b2" stroke-width="0.8" stroke-dasharray="1.6 1.6"/>
<line x1="609.5" y1="621.0" x2="609.5" y2="623.0" stroke="#555" stroke-width="0.8"/>
<line x1="609.5" y1="680.6" x2="609.5" y2="678.6" stroke="#555" stroke-width="0.8"/>
<line x1="615.6" y1="621.0" x2="615.6" y2="680.6" stroke="#d6d6d6" stroke-width="0.8"/>
<line x1="615.6" y1="621.0" x2="615.6" y2="624.0" stroke="#555" stroke-width="0.8"/>
<line x1="615.6" y1="680.6" x2="615.6" y2="677.6" stroke="#555" stroke-width="0.8"/>
<line x1="656.0" y1="621.0" x2="656.0" y2="680.6" stroke="#b2b2b2" stroke-width="0.8" stroke-dasharray="1.6 1.6"/>
<line x1="656.0" y1="621.0" x2="656.0" y2="623.0" stroke="#555" stroke-width="0.8"/>
<line x1="656.0" y1="680.6" x2="656.0" y2="678.6" stroke="#555" stroke-width="0.8"/>
<line x1="679.6" y1="621.0" x2="679.6" y2="680.6" stroke="#b2b2b2" stroke-width="0.8" stroke-dasharray="1.6 1.6"/>
<line x1="679.6" y1="621.0" x2="679.6" y2="623.0" stroke="#555" stroke-width="0.8"/>
<line x1="679.6" y1="680.6" x2="679.6" y2="678.6" stroke="#555" stroke-width="0.8"/>
<line x1="696.4" y1="621.0" x2="696.4" y2="680.6" stroke="#b2b2b2" stroke-width="0.8" stroke-dasharray="1.6 1.6"/>
<line x1="696.4" y1="621.0" x2="696.4" y2="623.0" stroke="#555" stroke-width="0.8"/>
<line x1="696.4" y1="680.6" x2="696.4" y2="678.6" stroke="#555" stroke-width="0.8"/>
<line x1="213.0" y1="678.0" x2="215.2" y2="678.0" stroke="#555" stroke-width="0.7"/>
<line x1="697.0" y1="678.0" x2="694.8" y2="678.0" stroke="#555" stroke-width="0.7"/>
<line x1="213.0" y1="675.5" x2="217.2" y2="675.5" stroke="#555" stroke-width="0.7"/>
<line x1="697.0" y1="675.5" x2="692.8" y2="675.5" stroke="#555" stroke-width="0.7"/>
<line x1="213.0" y1="673.0" x2="215.2" y2="673.0" stroke="#555" stroke-width="0.7"/>
<line x1="697.0" y1="673.0" x2="694.8" y2="673.0" stroke="#555" stroke-width="0.7"/>
<line x1="213.0" y1="670.6" x2="215.2" y2="670.6" stroke="#555" stroke-width="0.7"/>
<line x1="697.0" y1="670.6" x2="694.8" y2="670.6" stroke="#555" stroke-width="0.7"/>
<line x1="213.0" y1="668.1" x2="215.2" y2="668.1" stroke="#555" stroke-width="0.7"/>
<line x1="697.0" y1="668.1" x2="694.8" y2="668.1" stroke="#555" stroke-width="0.7"/>
<line x1="213.0" y1="665.6" x2="215.2" y2="665.6" stroke="#555" stroke-width="0.7"/>
<line x1="697.0" y1="665.6" x2="694.8" y2="665.6" stroke="#555" stroke-width="0.7"/>
<line x1="213.0" y1="663.1" x2="217.2" y2="663.1" stroke="#555" stroke-width="0.7"/>
<line x1="697.0" y1="663.1" x2="692.8" y2="663.1" stroke="#555" stroke-width="0.7"/>
<line x1="213.0" y1="660.7" x2="215.2" y2="660.7" stroke="#555" stroke-width="0.7"/>
<line x1="697.0" y1="660.7" x2="694.8" y2="660.7" stroke="#555" stroke-width="0.7"/>
<line x1="213.0" y1="658.2" x2="215.2" y2="658.2" stroke="#555" stroke-width="0.7"/>
<line x1="697.0" y1="658.2" x2="694.8" y2="658.2" stroke="#555" stroke-width="0.7"/>
<line x1="213.0" y1="655.7" x2="215.2" y2="655.7" stroke="#555" stroke-width="0.7"/>
<line x1="697.0" y1="655.7" x2="694.8" y2="655.7" stroke="#555" stroke-width="0.7"/>
<line x1="213.0" y1="653.3" x2="215.2" y2="653.3" stroke="#555" stroke-width="0.7"/>
<line x1="697.0" y1="653.3" x2="694.8" y2="653.3" stroke="#555" stroke-width="0.7"/>
<line x1="213.0" y1="650.8" x2="217.2" y2="650.8" stroke="#555" stroke-width="0.7"/>
<line x1="697.0" y1="650.8" x2="692.8" y2="650.8" stroke="#555" stroke-width="0.7"/>
<line x1="213.0" y1="648.3" x2="215.2" y2="648.3" stroke="#555" stroke-width="0.7"/>
<line x1="697.0" y1="648.3" x2="694.8" y2="648.3" stroke="#555" stroke-width="0.7"/>
<line x1="213.0" y1="645.9" x2="215.2" y2="645.9" stroke="#555" stroke-width="0.7"/>
<line x1="697.0" y1="645.9" x2="694.8" y2="645.9" stroke="#555" stroke-width="0.7"/>
<line x1="213.0" y1="643.4" x2="215.2" y2="643.4" stroke="#555" stroke-width="0.7"/>
<line x1="697.0" y1="643.4" x2="694.8" y2="643.4" stroke="#555" stroke-width="0.7"/>
<line x1="213.0" y1="640.9" x2="215.2" y2="640.9" stroke="#555" stroke-width="0.7"/>
<line x1="697.0" y1="640.9" x2="694.8" y2="640.9" stroke="#555" stroke-width="0.7"/>
<line x1="213.0" y1="638.4" x2="217.2" y2="638.4" stroke="#555" stroke-width="0.7"/>
<line x1="697.0" y1="638.4" x2="692.8" y2="638.4" stroke="#555" stroke-width="0.7"/>
<line x1="213.0" y1="636.0" x2="215.2" y2="636.0" stroke="#555" stroke-width="0.7"/>
<line x1="697.0" y1="636.0" x2="694.8" y2="636.0" stroke="#555" stroke-width="0.7"/>
<line x1="213.0" y1="633.5" x2="215.2" y2="633.5" stroke="#555" stroke-width="0.7"/>
<line x1="697.0" y1="633.5" x2="694.8" y2="633.5" stroke="#555" stroke-width="0.7"/>
<line x1="213.0" y1="631.0" x2="215.2" y2="631.0" stroke="#555" stroke-width="0.7"/>
<line x1="697.0" y1="631.0" x2="694.8" y2="631.0" stroke="#555" stroke-width="0.7"/>
<line x1="213.0" y1="628.6" x2="215.2" y2="628.6" stroke="#555" stroke-width="0.7"/>
<line x1="697.0" y1="628.6" x2="694.8" y2="628.6" stroke="#555" stroke-width="0.7"/>
<line x1="213.0" y1="626.1" x2="217.2" y2="626.1" stroke="#555" stroke-width="0.7"/>
<line x1="697.0" y1="626.1" x2="692.8" y2="626.1" stroke="#555" stroke-width="0.7"/>
<line x1="213.0" y1="623.6" x2="215.2" y2="623.6" stroke="#555" stroke-width="0.7"/>
<line x1="697.0" y1="623.6" x2="694.8" y2="623.6" stroke="#555" stroke-width="0.7"/>
<path d="M252.5,651.3C255.1,650.0 263.9,645.6 268.1,643.5C272.3,641.4 274.6,640.2 277.9,638.6C281.2,637.0 284.8,635.1 287.7,633.8C290.6,632.5 292.9,631.3 295.5,630.8C298.1,630.3 301.0,630.3 303.3,630.8C305.6,631.3 306.8,631.7 309.1,633.8C311.4,635.9 314.7,640.6 317.0,643.5C319.3,646.4 320.9,649.0 322.8,651.3C324.8,653.6 326.8,655.6 328.7,657.2C330.6,658.8 332.6,660.2 334.5,661.1C336.4,662.0 338.1,662.4 340.0,662.7C341.9,663.0 343.0,663.1 345.6,663.0C348.2,662.9 351.5,662.9 355.4,662.1C359.3,661.3 363.6,659.8 369.1,658.2C374.6,656.6 382.8,654.3 388.6,652.3C394.5,650.3 400.0,647.9 404.2,646.4C408.4,644.9 411.6,644.0 414.0,643.5C416.4,643.0 417.4,642.6 418.9,643.1C420.4,643.6 420.7,645.7 422.8,646.4C424.9,647.1 427.5,647.3 431.6,647.4C435.7,647.5 439.1,647.2 447.2,647.0C455.3,646.8 469.7,646.8 480.0,646.4C490.3,646.0 497.8,645.2 509.1,644.5C520.5,643.8 535.1,642.8 548.1,642.0C561.1,641.2 577.0,640.3 587.2,639.6C597.4,638.9 603.2,638.4 609.5,637.7C615.8,637.1 621.0,636.5 625.2,635.7C629.4,634.9 631.6,633.7 634.9,632.8C638.1,631.9 642.1,630.8 644.7,630.2C647.3,629.6 649.5,629.4 650.5,629.3" fill="none" stroke="#dcdce2" stroke-width="2" stroke-linejoin="round" stroke-linecap="round"/>
<path d="M252.5,651.3C260.4,651.2 262.1,650.8 300.0,650.6C337.9,650.5 430.0,650.4 480.0,650.4C530.0,650.4 575.8,650.4 600.0,650.4C624.2,650.4 618.3,650.3 625.0,650.2C631.7,650.1 635.8,649.9 640.0,649.7C644.2,649.5 646.5,649.3 650.0,649.1C653.5,648.9 659.4,648.5 661.3,648.4" fill="none" stroke="#f3e9c6" stroke-width="5" stroke-linejoin="round"/>
<path d="M252.5,651.3C260.4,651.2 262.1,650.8 300.0,650.6C337.9,650.5 430.0,650.4 480.0,650.4C530.0,650.4 575.8,650.4 600.0,650.4C624.2,650.4 618.3,650.3 625.0,650.2C631.7,650.1 635.8,649.9 640.0,649.7C644.2,649.5 646.5,649.3 650.0,649.1C653.5,648.9 659.4,648.5 661.3,648.4" fill="none" stroke="#d8c58b" stroke-width="2.7" stroke-linejoin="round"/>
<rect x="213.0" y="621.0" width="484.0" height="59.6" fill="none" stroke="#505050" stroke-width="1.45"/>
<text x="210.6" y="628.6" text-anchor="end" class="sm">50</text>
<text x="210.6" y="640.9" text-anchor="end" class="sm">25</text>
<text x="210.6" y="653.3" text-anchor="end" class="sm">0</text>
<text x="210.6" y="665.6" text-anchor="end" class="sm">−25</text>
<text x="210.6" y="678.0" text-anchor="end" class="sm">−50</text>
<text x="213.0" y="694.4" text-anchor="middle" class="tk" style="font-size:11px">10</text>
<text x="347.2" y="694.4" text-anchor="middle" class="tk" style="font-size:11px">100</text>
<text x="481.4" y="694.4" text-anchor="middle" class="tk" style="font-size:11px">1k</text>
<text x="615.6" y="694.4" text-anchor="middle" class="tk" style="font-size:11px">10k</text>
<text x="444.2" y="712.3" class="ax" style="font-size:14px">Hz</text>
<text x="166.2" y="590.3" class="ax" style="font-size:14px" textLength="10" lengthAdjust="spacingAndGlyphs">Ω</text>
<text x="167.4" y="657.6" class="ax" style="font-size:13px">ø<tspan dx="0.6" dy="-4.4" style="font-size:8px">°</tspan></text>
</svg>
</body></html>
